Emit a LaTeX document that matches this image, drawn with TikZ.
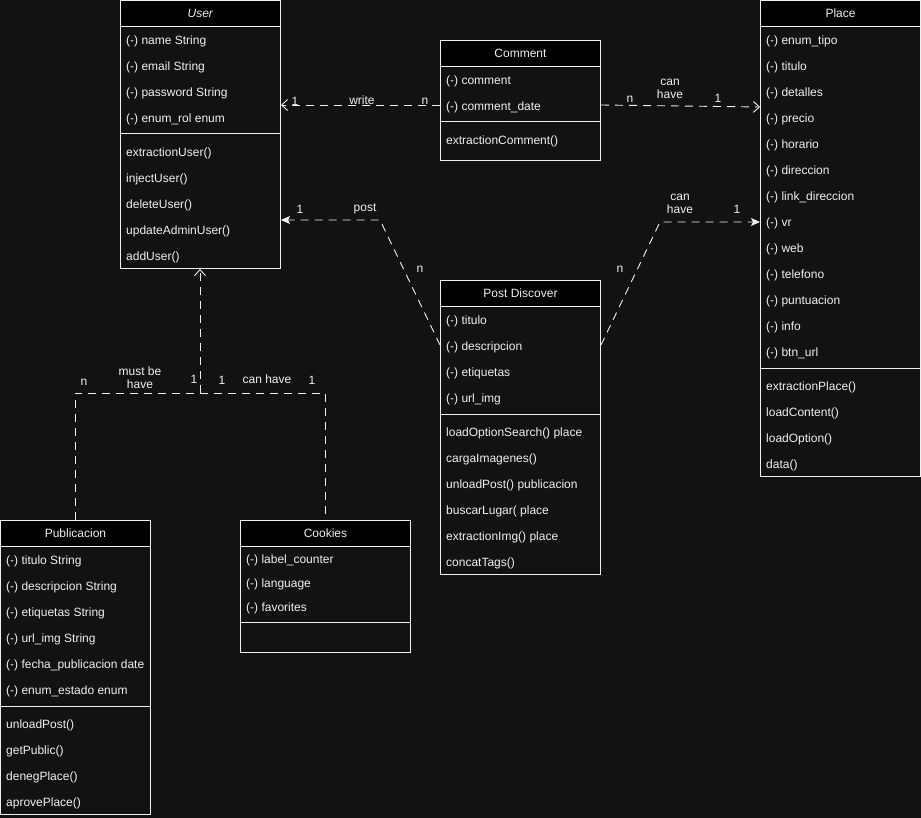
\documentclass[tikz,border=0pt]{standalone}
\usepackage{fontspec}
\setmainfont{Liberation Sans}
\usetikzlibrary{arrows.meta}
\definecolor{bg}{HTML}{121212}
\definecolor{fg}{HTML}{F0F0F0}
\tikzset{
  classbox/.style={draw=fg, line width=1pt, fill=bg, inner sep=0pt},
  header/.style={draw=fg, line width=1pt, fill=black, text=fg, inner sep=0pt, minimum height=26pt, font=\fontsize{12}{14}\selectfont, text depth=1pt, text height=9pt},
  item/.style={text=fg, inner sep=0pt, font=\fontsize{12}{14}\selectfont},
  lbl/.style={text=fg, inner sep=0pt, font=\fontsize{12}{13}\selectfont, align=center},
  conn/.style={draw=fg, line width=0.9pt, dash pattern=on 8pt off 6pt},
  openarr/.style={-{Straight Barb[length=6pt,width=11pt]}},
  fillarr/.style={-{Stealth[length=9pt,width=8pt,inset=2pt]}}
}
\newcommand\umlclass[9]{%
  \node[classbox, minimum width=#4pt, minimum height=#5pt, anchor=north west] (#1) at (#2,#3) {};
  \node[header, minimum width=#4pt, anchor=north west] (#1h) at (#2,#3) {#6};
  \foreach [count=\i] \t in {#8} {\node[item, anchor=west] (#1a\i) at (#2+6, #3+28+\i*#7-0.5*#7) {\t}; \xdef\na{\i}}
  \draw[fg, line width=1pt] (#2, #3+26+\na*#7+4) -- (#2+#4, #3+26+\na*#7+4);
  \if\relax\detokenize{#9}\relax\else
  \foreach [count=\j] \t in {#9} {\node[item, anchor=west] (#1m\j) at (#2+6, #3+26+\na*#7+10+\j*26-13) {\t};}
  \fi
}
\begin{document}
\begin{tikzpicture}[x=1pt,y=-1pt]
\fill[bg] (0,0) rectangle (921,818);
\useasboundingbox (0,0) rectangle (921,818);
\umlclass{user}{120}{0}{160}{268}{\textit{User}}{26}{(-) name String,(-) email String,(-) password String,(-) enum\_rol enum}{extractionUser(),injectUser(),deleteUser(),updateAdminUser(),addUser()}
\umlclass{comment}{440}{40}{160}{120}{Comment}{26}{(-) comment,(-) comment\_date}{extractionComment()}
\umlclass{place}{760}{0}{160}{476}{Place}{26}{(-) enum\_tipo,(-) titulo,(-) detalles,(-) precio,(-) horario,(-) direccion,(-) link\_direccion,(-) vr,(-) web,(-) telefono,(-) puntuacion,(-) info,(-) btn\_url}{extractionPlace(),loadContent(),loadOption(),data()}
\umlclass{post}{440}{280}{160}{294}{Post Discover}{26}{(-) titulo,(-) descripcion,(-) etiquetas,(-) url\_img}{loadOptionSearch() place,cargaImagenes(),unloadPost() publicacion,buscarLugar( place,extractionImg() place,concatTags()}
\umlclass{pub}{0}{520}{150}{294}{Publicacion}{26}{(-) titulo String,(-) descripcion String,(-) etiquetas String,(-) url\_img String,(-) fecha\_publicacion date,(-) enum\_estado enum}{unloadPost(),getPublic(),denegPlace(),aprovePlace()}
\umlclass{cookies}{240}{520}{170}{132}{Cookies}{24}{(-) label\_counter,(-) language,(-) favorites}{}
% connectors
\coordinate (pb1) at (380,220);
\coordinate (pb2) at (660,222);
\coordinate (junc) at (200,393);
\coordinate (jl) at (75,393);
\coordinate (jr) at (325,393);
\draw[conn, openarr] (comment.west |- 0,105) -- (user.east |- 0,105);
\draw[conn, openarr] (comment.east |- 0,105) -- (place.west |- 0,107);
\draw[conn, fillarr] (post.west |- 0,345) -- (pb1) -- (user.east |- 0,220);
\draw[conn, fillarr] (post.east |- 0,345) -- (pb2) -- (place.west |- 0,222);
\draw[conn, openarr] (junc) -- (user.south -| junc);
\draw[conn] (pub.north -| jl) -- (jl) -- (jr) -- (cookies.north -| jr);
% labels
\node[lbl] at (295,101) {1};
\node[lbl] at (362,100) {write};
\node[lbl] at (425,101) {n};
\node[lbl] at (630,99) {n};
\node[lbl] at (670,89) {can\\have};
\node[lbl] at (718,98) {1};
\node[lbl] at (300,209) {1};
\node[lbl] at (365,209) {post};
\node[lbl] at (420,269) {n};
\node[lbl] at (620,269) {n};
\node[lbl] at (680,204) {can\\have};
\node[lbl] at (737,209) {1};
\node[lbl] at (84,382) {n};
\node[lbl] at (140,378) {must be\\have};
\node[lbl] at (194,379) {1};
\node[lbl] at (222,380) {1};
\node[lbl] at (267,379) {can have};
\node[lbl] at (312,380) {1};
\end{tikzpicture}
\end{document}
